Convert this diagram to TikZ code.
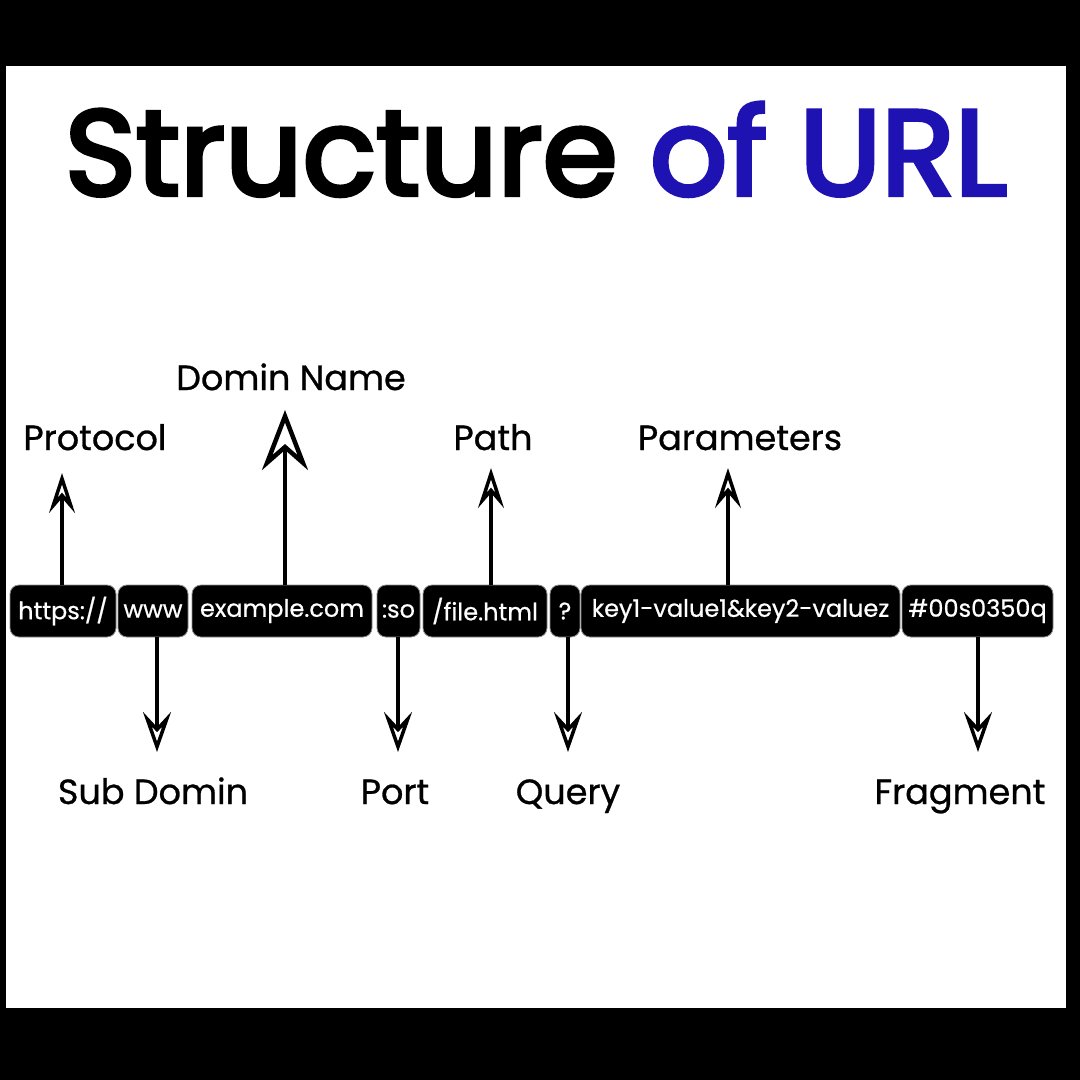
\documentclass[tikz,border=0pt]{standalone}
\usepackage{fontspec}
\setmainfont{Poppins}
\usetikzlibrary{arrows.meta}
\definecolor{urlblue}{RGB}{30,18,178}
\tikzset{
  pill/.style={fill=black, draw=black!45, line width=0.8pt, rounded corners=9pt, text=white,
    minimum height=52pt, inner sep=0pt, font=\fontsize{24}{24}\selectfont\addfontfeature{FakeBold=0.6}},
  lbl/.style={font=\fontsize{35}{35}\selectfont\addfontfeature{FakeBold=0.8}, text=black, inner sep=0pt, anchor=base},
  upa/.style={line width=3.5pt, -{Stealth[open, length=40pt, width=26pt, inset=15pt]}},
  bigupa/.style={line width=4.5pt, -{Stealth[open, length=60pt, width=46pt, inset=20pt]}},
  downa/.style={line width=3.5pt, -{Stealth[open, length=40pt, width=28pt, inset=15pt]}},
}
\begin{document}
\begin{tikzpicture}[x=1pt,y=-1pt]
\fill[black] (0,0) rectangle (1080,1080);
\fill[white] (6,66) rectangle (1066,1008);
\useasboundingbox (0,0) rectangle (1080,1080);

\node[anchor=base, inner sep=0pt, font=\fontsize{121}{121}\selectfont\addfontfeature{FakeBold=3.6}] (title) at (536,195)
  {Structure {\color{urlblue}of URL}};

% pills
\node[pill, minimum width=106pt] (https) at (63,611) {https://};
\node[pill, minimum width=70pt] (www) at (153,611) {www};
\node[pill, minimum width=180pt] (example) at (282,611) {example.com};
\node[pill, minimum width=43pt] (port) at (398.5,611) {:so};
\node[pill, minimum width=124pt] (file) at (485,611) {/file.html};
\node[pill, minimum width=30pt] (qm) at (565,611) {?};
\node[pill, minimum width=319pt] (key) at (740.5,611) {key1-value1\&key2-valuez};
\node[pill, minimum width=151pt] (frag) at (977.5,611) {\#00s0350q};

% labels
\node[lbl] (lprot) at (95,450) {Protocol};
\node[lbl] (ldom) at (291,390) {Domin Name};
\node[lbl] (lpath) at (493,450) {Path};
\node[lbl] (lpar) at (740,450) {Parameters};
\node[lbl] (lsub) at (153,804) {Sub Domin};
\node[lbl] (lport) at (395,804) {Port};
\node[lbl] (lquery) at (568,804) {Query};
\node[lbl] (lfrag) at (960,804) {Fragment};

% arrow tips
\coordinate (tprot) at (62,473);
\coordinate (tdom) at (285,410);
\coordinate (tpath) at (491,468);
\coordinate (tpar) at (728,468);
\coordinate (tsub) at (157,752);
\coordinate (tport) at (398,752);
\coordinate (tquery) at (568,752);
\coordinate (tfrag) at (978,752);

\draw[upa] (https.north -| tprot) -- (tprot);
\draw[bigupa] (example.north -| tdom) -- (tdom);
\draw[upa] (file.north -| tpath) -- (tpath);
\draw[upa] (key.north -| tpar) -- (tpar);
\draw[downa] (www.south -| tsub) -- (tsub);
\draw[downa] (port.south -| tport) -- (tport);
\draw[downa] (qm.south -| tquery) -- (tquery);
\draw[downa] (frag.south -| tfrag) -- (tfrag);
\end{tikzpicture}
\end{document}
